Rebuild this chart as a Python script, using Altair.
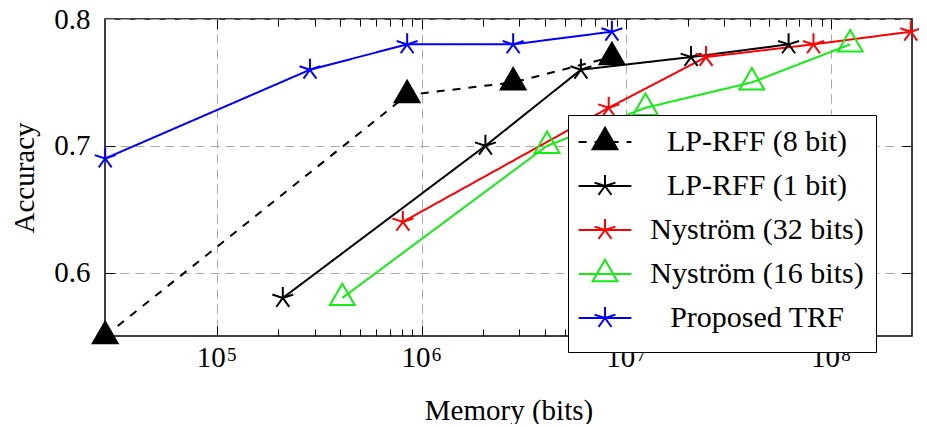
import altair as alt
import pandas as pd

FONT = "Liberation Serif"

series_names = ["LP-RFF (8 bit)", "LP-RFF (1 bit)", "Nyström (32 bits)", "Nyström (16 bits)", "Proposed TRF"]
series_keys = ["k0", "k1", "k2", "k3", "k4"]
series_colors = ["#000000", "#000000", "#ff0000", "#11ee11", "#0000ff"]

lp8_x = [2.85e4, 8.5e5, 2.8e6, 8.5e6]
lp8_y = [0.55, 0.74, 0.75, 0.77]
lp1_x = [2.1e5, 2.05e6, 6.0e6, 2.07e7, 6.2e7]
lp1_y = [0.58, 0.70, 0.76, 0.77, 0.78]
ny32_x = [8.1e5, 8.2e6, 2.45e7, 8.2e7, 2.45e8]
ny32_y = [0.64, 0.73, 0.77, 0.78, 0.79]
ny16_x = [4.1e5, 4.1e6, 1.24e7, 4.1e7, 1.24e8]
ny16_y = [0.58, 0.70, 0.73, 0.75, 0.78]
trf_x = [2.85e4, 2.85e5, 8.5e5, 2.8e6, 8.5e6]
trf_y = [0.69, 0.76, 0.78, 0.78, 0.79]

x_major = [1e5, 1e6, 1e7, 1e8]
x_exponents = ["5", "6", "7", "8"]
x_minor = [m * 10 ** k for k in (5, 6, 7) for m in range(2, 10)]
y_ticks = [0.6, 0.7, 0.8]
y_inner = [0.6, 0.7]

xs = [lp8_x, lp1_x, ny32_x, ny16_x, trf_x]
ys = [lp8_y, lp1_y, ny32_y, ny16_y, trf_y]
rows = []
for name, key, sx, sy in zip(series_names, series_keys, xs, ys):
    for a, b in zip(sx, sy):
        rows.append({"series": name, "key": key, "mem": a, "acc": b})
df = pd.DataFrame(rows)
sup_df = pd.DataFrame({"mem": x_major, "exp": x_exponents})

# unit-scaled symbol paths (1 unit = sqrt(size)/2 px)
EXT = "M-2.4,-1.55L-2.4,-1.55M18.5,1.55L18.5,1.55"  # zero-length: only sets legend bounds
STAR = "M0,0L0,-1M0,0L0.951,-0.309M0,0L0.588,0.809M0,0L-0.588,0.809M0,0L-0.951,-0.309"
TRI = "M0,-1.3L1.126,0.65L-1.126,0.65Z"
LINE = "M-2.4,0L2.4,0"

marker_shapes = [TRI + EXT, STAR + EXT, STAR + EXT, TRI + EXT, STAR + EXT]
marker_fills = ["#000000", "transparent", "transparent", "transparent", "transparent"]
dashes = [[8, 8], [1, 0], [1, 0], [1, 0], [1, 0]]

W, H = 807, 317

x_scale = alt.Scale(type="log", domain=[28440, 2.483e8], nice=False)
y_scale = alt.Scale(domain=[0.55, 0.8], nice=False, zero=False)

GRID = dict(grid=True, gridDash=[9, 6], gridColor="#aaaaaa", gridWidth=1)
EMPTY = dict(labels=False, ticks=False, domain=False, grid=False, title="")

axis_bottom = alt.Axis(
    values=x_major, labelExpr="'10'", labelOffset=-6,
    ticks=False, domain=False, title="Memory (bits)",
    titleFont=FONT, titleFontSize=29, titleFontWeight="normal", titleColor="black",
    labelFont=FONT, labelFontSize=29, labelColor="black",
    labelPadding=7, titlePadding=24, labelFlush=False, labelOverlap=False,
    **GRID,
)
axis_left = alt.Axis(
    values=y_ticks, format=".1f",
    ticks=False, domain=False, title="Accuracy",
    titleFont=FONT, titleFontSize=29, titleFontWeight="normal", titleColor="black",
    labelFont=FONT, labelFontSize=29, labelColor="black",
    labelPadding=15, titlePadding=14, labelFlush=False,
    **GRID,
)

major_test = "indexof([100000, 1000000, 10000000, 100000000], datum.value) >= 0"
TICKX = dict(
    values=x_major + x_minor, labels=False, domain=False, grid=False, ticks=True,
    tickColor="black", tickWidth=1, title="",
    tickSize={"condition": {"test": major_test, "value": 10}, "value": 7},
)
TICKY = dict(
    values=y_inner, labels=False, domain=False, grid=False, ticks=True,
    tickColor="black", tickWidth=1, tickSize=10, title="",
)

LEG = dict(
    title="", titlePadding=0, orient="none", legendX=463, legendY=96, direction="vertical",
    padding=12, cornerRadius=0,
    labelFont=FONT, labelFontSize=30, labelAlign="center",
    labelBaseline="middle", labelOffset=137, labelLimit=0,
    symbolSize=484, symbolStrokeWidth=2, symbolOffset=10, rowPadding=0,
)
legend_lines = alt.Legend(
    fillColor="white", strokeColor="black", labelColor="black",
    symbolType=LINE + EXT, zindex=0, **LEG,
)
legend_marks = alt.Legend(labelExpr="''", labelColor="black", zindex=1, **LEG)

base = alt.Chart(df)

lines = base.mark_line(strokeWidth=2).encode(
    x=alt.X("mem:Q", scale=x_scale, axis=axis_bottom),
    y=alt.Y("acc:Q", scale=y_scale, axis=axis_left),
    color=alt.Color("series:N", scale=alt.Scale(domain=series_names, range=series_colors), legend=legend_lines),
    strokeDash=alt.StrokeDash("series:N", scale=alt.Scale(domain=series_names, range=dashes), legend=legend_lines),
)

points = base.mark_point(size=484, strokeWidth=2, opacity=1, filled=False).encode(
    x=alt.X("mem:Q", axis=alt.Axis(orient="top", offset=-H, **TICKX)),
    y=alt.Y("acc:Q", axis=alt.Axis(orient="right", offset=-W, **TICKY)),
    stroke=alt.Stroke("key:N", scale=alt.Scale(domain=series_keys, range=series_colors), legend=legend_marks),
    fill=alt.Fill("key:N", scale=alt.Scale(domain=series_keys, range=marker_fills), legend=legend_marks),
    shape=alt.Shape("key:N", scale=alt.Scale(domain=series_keys, range=marker_shapes), legend=legend_marks),
)

ghost = base.mark_point(opacity=0, size=1).encode(
    x=alt.X("mem:Q", axis=alt.Axis(orient="bottom", offset=-H, **TICKX)),
    y=alt.Y("acc:Q", axis=alt.Axis(orient="left", offset=-W, **TICKY)),
)

# superscript exponents of the x tick labels (10^k)
sup = alt.Chart(sup_df).mark_text(
    font=FONT, fontSize=19, baseline="top", align="center", dx=15, color="black"
).encode(
    x=alt.X("mem:Q", axis=alt.Axis(**EMPTY)),
    y=alt.value(H + 10),
    text="exp:N",
)

chart = (
    alt.layer(lines, points, ghost, sup)
    .resolve_axis(x="independent", y="independent")
    .properties(
        width=W, height=H,
        padding={"left": 97, "top": 11, "right": 7, "bottom": 88},
        autosize=alt.AutoSizeParams(type="none"),
        background="white",
    )
    .configure_view(stroke="black", strokeWidth=1.5)
)

chart.save("out.html", embed_options={"renderer": "svg", "actions": False})
